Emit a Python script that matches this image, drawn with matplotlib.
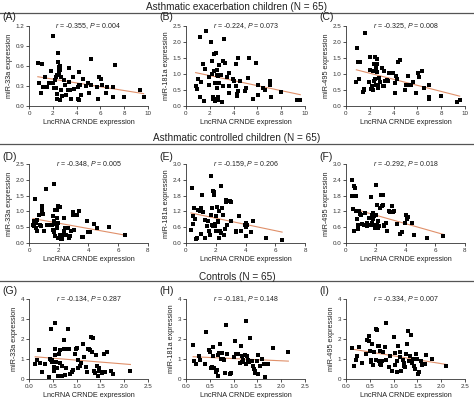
import numpy as np
import matplotlib
matplotlib.use('Agg')
import matplotlib.pyplot as plt
from matplotlib.lines import Line2D
from matplotlib.ticker import FormatStrFormatter

# 스타일
plt.rcParams.update({
    'font.family': ['Liberation Sans', 'DejaVu Sans'],
    'mathtext.fontset': 'custom',
    'mathtext.rm': 'Liberation Sans',
    'mathtext.it': 'Liberation Sans:italic',
    'axes.linewidth': 0.6,
    'axes.edgecolor': '#333333',
    'xtick.major.width': 0.6,
    'ytick.major.width': 0.6,
    'xtick.major.size': 2,
    'ytick.major.size': 2,
    'xtick.major.pad': 1.5,
    'ytick.major.pad': 1.5,
    'xtick.color': '#333333',
    'ytick.color': '#333333',
    'xtick.labelsize': 4.5,
    'ytick.labelsize': 4.5,
})

# ---- 데이터 ----
group_titles = ['Asthmatic exacerbation children (N = 65)',
                'Asthmatic controlled children (N = 65)',
                'Controls (N = 65)']
panel_labels = ['(A)', '(B)', '(C)', '(D)', '(E)', '(F)', '(G)', '(H)', '(I)']
mirna_labels = ['miR-33a expression', 'miR-181a expression', 'miR-495 expression']
r_values = ['-0.355', '-0.224', '-0.325', '-0.348', '-0.159', '-0.292', '-0.134', '-0.181', '-0.334']
p_values = ['0.004', '0.073', '0.008', '0.005', '0.206', '0.018', '0.287', '0.148', '0.007']

a_x = [0.74, 1.08, 0.88, 0.97, 1.14, 1.36, 1.53, 1.65, 1.99, 1.85, 1.99, 2.10, 2.20, 2.25, 2.27, 2.33,
       2.39, 2.47, 2.47, 2.50, 2.53, 2.56, 2.60, 2.60, 2.63, 2.70, 2.70, 2.78, 2.90, 3.04, 3.13, 3.24,
       3.38, 3.32, 3.47, 3.55, 3.69, 3.81, 4.09, 4.18, 4.12, 4.18, 4.23, 4.32, 4.40, 4.52, 4.77, 4.94,
       5.00, 5.20, 5.17, 5.68, 5.91, 6.02, 5.82, 6.16, 6.48, 6.59, 7.10, 7.02, 7.19, 8.01, 9.35, 9.63, 2.39]
a_y = [0.64, 0.63, 0.35, 0.20, 0.28, 0.44, 0.28, 0.34, 1.05, 0.53, 0.34, 0.27, 0.39, 0.43, 0.27, 0.46,
       0.11, 0.79, 0.66, 0.58, 0.52, 0.50, 0.54, 0.60, 0.09, 0.44, 0.24, 0.15, 0.39, 0.31, 0.16, 0.24,
       0.57, 0.36, 0.24, 0.11, 0.44, 0.25, 0.28, 0.51, 0.11, 0.09, 0.31, 0.31, 0.17, 0.40, 0.30, 0.35,
       0.19, 0.71, 0.31, 0.28, 0.44, 0.40, 0.10, 0.31, 0.20, 0.28, 0.28, 0.14, 0.62, 0.13, 0.24, 0.14, 0.18]

b_x = [0.81, 0.95, 1.03, 1.23, 1.15, 1.17, 1.54, 1.40, 1.56, 1.68, 1.90, 2.09, 1.96, 2.15, 2.20, 2.23,
       2.29, 2.37, 2.35, 2.40, 2.46, 2.49, 2.51, 2.57, 2.57, 2.63, 2.65, 2.68, 2.71, 2.77, 2.79, 2.90,
       2.99, 3.07, 3.13, 3.18, 3.27, 3.41, 3.58, 3.58, 3.63, 3.91, 4.02, 4.19, 4.19, 4.25, 4.30, 4.33,
       4.39, 4.53, 4.94, 5.08, 5.17, 5.28, 5.64, 5.92, 6.03, 6.09, 6.48, 6.62, 7.04, 7.09, 7.18, 8.02,
       9.33, 9.60]
b_y = [0.64, 0.53, 0.84, 0.75, 0.27, 2.16, 0.15, 1.30, 1.17, 2.33, 0.66, 2.01, 0.90, 1.40, 1.01, 0.29,
       0.21, 1.64, 1.08, 0.15, 0.73, 0.23, 1.67, 0.98, 0.55, 1.12, 0.18, 0.29, 0.93, 0.71, 1.28, 0.98,
       0.13, 1.40, 0.64, 2.10, 1.33, 0.90, 0.41, 0.61, 1.03, 0.83, 0.79, 1.30, 0.61, 0.39, 0.32, 1.51,
       0.47, 0.78, 0.48, 0.55, 0.89, 1.51, 0.21, 1.35, 0.66, 0.34, 0.55, 0.50, 0.77, 0.66, 0.29, 0.45,
       0.18, 0.18]

c_x = [0.87, 0.92, 1.00, 1.17, 1.12, 1.40, 1.51, 1.54, 1.62, 1.90, 2.01, 2.04, 2.09, 2.18, 2.26, 2.23,
       2.32, 2.37, 2.40, 2.46, 2.49, 2.54, 2.57, 2.60, 2.63, 2.65, 2.71, 2.79, 2.88, 2.99, 3.07, 3.16,
       3.21, 3.30, 3.41, 3.55, 3.63, 3.97, 4.11, 4.13, 4.19, 4.27, 4.39, 4.50, 4.94, 5.06, 5.11, 5.22,
       5.45, 5.61, 5.87, 6.01, 6.12, 6.40, 6.56, 6.98, 6.96, 7.01, 7.99, 9.30, 9.55]
c_y = [0.74, 1.80, 1.36, 1.36, 0.83, 0.43, 0.54, 0.49, 2.28, 0.74, 1.52, 1.14, 0.53, 0.64, 1.09, 0.49,
       0.78, 1.31, 0.83, 1.52, 0.67, 1.19, 1.47, 1.31, 1.06, 0.67, 0.56, 0.86, 0.74, 1.19, 0.64, 1.09,
       0.64, 0.78, 0.81, 0.78, 1.04, 1.02, 0.72, 0.42, 0.93, 0.85, 1.36, 1.44, 0.51, 0.66, 0.67, 0.95,
       0.67, 0.74, 0.42, 1.02, 0.91, 1.09, 0.56, 0.67, 0.28, 0.23, 0.30, 0.14, 0.19]

d_x = [0.27, 0.36, 0.41, 0.34, 0.45, 0.50, 0.54, 0.56, 0.68, 0.72, 0.81, 0.88, 0.90, 0.90, 0.95, 1.01,
       1.17, 1.22, 1.28, 1.33, 1.40, 1.51, 1.55, 1.58, 1.62, 1.67, 1.69, 1.69, 1.73, 1.76, 1.80, 1.85,
       1.85, 1.87, 1.91, 1.96, 1.98, 1.98, 2.07, 2.07, 2.14, 2.18, 2.25, 2.30, 2.34, 2.36, 2.41, 2.52,
       2.59, 2.66, 2.75, 2.79, 2.97, 2.97, 3.02, 3.24, 3.36, 3.54, 3.65, 3.92, 3.99, 4.10, 4.39, 4.55,
       5.38, 6.46]
d_y = [0.58, 0.69, 1.40, 0.55, 0.47, 0.63, 0.37, 0.74, 0.88, 0.58, 0.53, 1.11, 1.16, 0.98, 0.92, 0.39,
       1.71, 0.58, 0.56, 0.58, 0.58, 0.56, 0.58, 0.42, 0.86, 1.87, 0.69, 0.35, 0.23, 1.05, 0.61, 1.05,
       0.79, 0.47, 0.58, 0.16, 1.16, 0.63, 1.13, 0.26, 0.16, 0.13, 0.14, 0.26, 0.79, 0.39, 0.47, 0.26,
       0.47, 0.16, 0.21, 0.39, 0.98, 0.90, 0.40, 0.88, 1.02, 0.18, 0.18, 0.69, 0.35, 0.35, 0.60, 0.47,
       0.50, 0.26]

e_x = [0.38, 0.33, 0.45, 0.49, 0.56, 0.60, 0.67, 0.76, 0.82, 0.94, 0.98, 1.00, 1.09, 1.16, 1.27, 1.31,
       1.38, 1.49, 1.54, 1.60, 1.65, 1.71, 1.76, 1.78, 1.83, 1.83, 1.87, 1.89, 1.94, 1.96, 2.00, 2.05,
       2.07, 2.12, 2.16, 2.20, 2.23, 2.27, 2.34, 2.38, 2.43, 2.49, 2.54, 2.61, 2.67, 2.72, 2.76, 2.94,
       3.01, 3.05, 3.34, 3.39, 3.56, 3.72, 3.94, 4.01, 4.05, 4.05, 4.10, 4.39, 4.52, 5.41, 6.46]
e_y = [2.09, 0.51, 0.72, 1.01, 1.33, 0.91, 0.15, 0.19, 1.27, 1.23, 1.33, 0.34, 1.81, 1.18, 0.19, 0.89,
       0.63, 0.82, 0.44, 0.32, 2.53, 1.08, 1.33, 0.70, 0.63, 1.99, 1.94, 1.84, 0.72, 0.63, 1.01, 0.47,
       1.35, 0.82, 0.80, 0.19, 1.20, 0.47, 2.15, 0.38, 1.33, 1.08, 0.32, 0.54, 1.56, 1.65, 0.70, 1.61,
       0.85, 1.56, 0.47, 0.41, 1.01, 0.44, 0.70, 0.75, 0.25, 0.59, 0.67, 0.41, 0.82, 0.19, 0.13]

f_x = [0.43, 0.38, 0.45, 0.54, 0.61, 0.56, 0.65, 0.70, 0.74, 0.79, 0.83, 0.90, 0.94, 1.01, 1.10, 1.23,
       1.28, 1.39, 1.43, 1.50, 1.57, 1.61, 1.68, 1.72, 1.77, 1.79, 1.84, 1.86, 1.88, 1.93, 1.99, 2.02,
       2.06, 2.09, 2.13, 2.17, 2.24, 2.29, 2.35, 2.40, 2.46, 2.51, 2.53, 2.58, 2.67, 2.73, 2.89, 2.96,
       3.07, 3.14, 3.25, 3.41, 3.63, 3.77, 3.97, 4.04, 4.13, 4.17, 4.42, 4.55, 5.45, 6.53]
f_y = [2.39, 1.77, 1.30, 2.15, 2.09, 0.47, 1.23, 1.77, 0.91, 0.54, 0.70, 1.23, 1.10, 1.08, 0.72, 0.70,
       1.14, 0.63, 0.75, 0.70, 0.95, 0.70, 1.73, 0.76, 1.08, 0.91, 1.14, 1.01, 0.70, 0.57, 2.22, 1.08,
       1.43, 0.70, 0.57, 0.82, 0.63, 1.33, 1.81, 1.42, 1.81, 1.43, 0.70, 0.63, 0.76, 0.47, 1.23, 1.18,
       1.39, 1.18, 1.20, 0.72, 0.34, 0.41, 0.75, 1.08, 0.92, 0.97, 0.76, 0.32, 0.19, 0.25]

g_x = [0.13, 0.17, 0.20, 0.23, 0.27, 0.34, 0.42, 0.45, 0.47, 0.48, 0.49, 0.46, 0.52, 0.52, 0.55, 0.54,
       0.55, 0.56, 0.59, 0.61, 0.64, 0.65, 0.66, 0.69, 0.69, 0.73, 0.74, 0.75, 0.78, 0.78, 0.82, 0.83,
       0.86, 0.90, 0.92, 0.97, 0.99, 1.01, 1.02, 1.03, 1.08, 1.10, 1.13, 1.15, 1.19, 1.21, 1.23, 1.26,
       1.28, 1.30, 1.34, 1.33, 1.36, 1.38, 1.41, 1.43, 1.45, 1.47, 1.48, 1.53, 1.54, 1.58, 1.63, 1.60,
       1.72, 1.77, 2.13]
g_y = [0.73, 0.96, 1.43, 0.78, 0.34, 0.76, 0.12, 1.01, 0.93, 0.93, 0.84, 2.48, 0.59, 0.42, 2.78, 1.21,
       1.52, 0.84, 0.56, 0.17, 1.26, 1.43, 0.79, 0.17, 0.67, 1.97, 1.52, 0.22, 1.52, 0.54, 2.48, 1.52,
       0.25, 0.34, 0.46, 1.23, 1.52, 1.55, 0.54, 0.93, 0.67, 0.79, 1.77, 1.10, 0.59, 0.34, 1.52, 1.52,
       1.47, 2.11, 2.06, 1.35, 0.42, 0.29, 1.18, 0.67, 0.17, 0.56, 0.42, 0.29, 0.34, 1.26, 1.33, 0.37,
       0.39, 0.25, 0.42]

h_x = [0.15, 0.17, 0.20, 0.27, 0.30, 0.39, 0.42, 0.48, 0.51, 0.53, 0.55, 0.56, 0.56, 0.58, 0.57, 0.62,
       0.65, 0.67, 0.68, 0.69, 0.71, 0.73, 0.74, 0.76, 0.77, 0.79, 0.82, 0.85, 0.87, 0.92, 0.95, 1.01,
       1.02, 1.06, 1.10, 1.13, 1.15, 1.17, 1.18, 1.20, 1.23, 1.26, 1.27, 1.29, 1.30, 1.32, 1.34, 1.35,
       1.37, 1.39, 1.41, 1.43, 1.44, 1.46, 1.49, 1.51, 1.52, 1.55, 1.59, 1.63, 1.66, 1.73, 1.83, 2.15]
h_y = [1.69, 0.89, 0.76, 1.13, 0.96, 0.73, 2.36, 1.43, 1.35, 0.56, 0.62, 1.60, 0.56, 0.56, 1.13, 0.34,
       0.46, 0.17, 1.21, 1.30, 1.74, 1.01, 0.98, 1.32, 1.01, 0.93, 0.29, 2.70, 1.26, 0.25, 0.29, 1.10,
       1.91, 1.23, 1.23, 0.79, 1.64, 0.86, 1.16, 0.93, 1.18, 2.88, 0.76, 1.13, 0.93, 0.84, 2.06, 0.88,
       0.89, 0.88, 0.67, 0.51, 0.42, 0.29, 0.89, 1.18, 0.25, 0.67, 1.01, 0.76, 0.12, 0.76, 1.57, 1.35]

i_x = [0.12, 0.17, 0.20, 0.24, 0.27, 0.34, 0.41, 0.44, 0.48, 0.49, 0.51, 0.53, 0.53, 0.55, 0.57, 0.58,
       0.62, 0.64, 0.65, 0.67, 0.69, 0.70, 0.71, 0.72, 0.74, 0.76, 0.78, 0.81, 0.83, 0.85, 0.90, 0.93,
       0.97, 1.00, 1.02, 1.03, 1.07, 1.08, 1.10, 1.13, 1.14, 1.16, 1.19, 1.21, 1.22, 1.24, 1.26, 1.29,
       1.31, 1.33, 1.35, 1.36, 1.38, 1.40, 1.42, 1.44, 1.47, 1.50, 1.52, 1.54, 1.57, 1.59, 1.65, 1.69,
       1.80, 2.11]
i_y = [1.55, 0.67, 0.97, 1.17, 1.58, 0.78, 1.25, 1.97, 2.17, 1.92, 1.42, 0.95, 0.85, 1.77, 0.68, 1.35,
       0.93, 2.50, 2.45, 1.67, 1.63, 0.88, 1.42, 0.75, 0.68, 0.92, 1.35, 1.58, 2.80, 0.97, 0.58, 1.17,
       0.42, 2.08, 1.30, 0.72, 0.35, 0.88, 1.63, 1.35, 1.08, 0.42, 0.97, 0.63, 0.80, 0.58, 1.25, 1.75,
       2.38, 0.92, 1.13, 2.18, 0.80, 1.02, 0.63, 0.52, 1.25, 1.02, 0.25, 0.35, 0.88, 0.72, 0.75, 1.18,
       1.00, 0.63]

xs_all = [a_x, b_x, c_x, d_x, e_x, f_x, g_x, h_x, i_x]
ys_all = [a_y, b_y, c_y, d_y, e_y, f_y, g_y, h_y, i_y]

# 축 눈금 (행/패널별)
x_ticks_rows = [[0, 2, 4, 6, 8, 10], [0, 2, 4, 6, 8], [0.0, 0.5, 1.0, 1.5, 2.0, 2.5]]
y_ticks_panels = [
    [0.0, 0.3, 0.6, 0.9, 1.2], [0.0, 0.5, 1.0, 1.5, 2.0, 2.5], [0.0, 0.5, 1.0, 1.5, 2.0, 2.5],
    [0.0, 0.5, 1.0, 1.5, 2.0, 2.5], [0.0, 0.6, 1.2, 1.8, 2.4, 3.0], [0.0, 0.6, 1.2, 1.8, 2.4, 3.0],
    [0, 1, 2, 3, 4], [0, 1, 2, 3, 4], [0, 1, 2, 3, 4],
]

# ---- 레이아웃 (픽셀) ----
W, H = 474, 398
fig = plt.figure(figsize=(W / 100, H / 100), dpi=100)
fig.patch.set_facecolor('white')

def rect(left, top, right, bottom):
    return [left / W, 1 - bottom / H, (right - left) / W, (bottom - top) / H]

col_lr = [(29, 148), (186, 305), (346, 465)]
row_tb = [(26, 106), (164, 243), (299, 379)]
title_y = [6.5, 138, 276.5]
rule_y = [13, 143.5, 280.5]
label_y = [17, 157, 291]
label_x = [2, 159, 319]
line_color = '#e0906a'

for r in range(3):
    fig.text(0.5, 1 - title_y[r] / H, group_titles[r], ha='center', va='center',
             fontsize=7.2, color='#222222')
    fig.add_artist(Line2D([0, 1], [1 - rule_y[r] / H] * 2, color='#555555', lw=0.9,
                          transform=fig.transFigure))
    for c in range(3):
        k = r * 3 + c
        x = np.array(xs_all[k])
        y = np.array(ys_all[k])
        ax = fig.add_axes(rect(col_lr[c][0], row_tb[r][0], col_lr[c][1], row_tb[r][1]))
        ax.scatter(x, y, s=5.5, marker='s', color='black', linewidths=0, clip_on=False, zorder=3)

        # 회귀선
        slope, intercept = np.polyfit(x, y, 1)
        xl = np.array([x.min(), x.max()])
        ax.plot(xl, slope * xl + intercept, color=line_color, lw=0.8, zorder=2)

        xt = x_ticks_rows[r]
        yt = y_ticks_panels[k]
        ax.set_xlim(xt[0], xt[-1])
        ax.set_ylim(yt[0], yt[-1])
        ax.set_xticks(xt)
        ax.set_yticks(yt)
        ax.xaxis.set_major_formatter(FormatStrFormatter('%.1f' if r == 2 else '%d'))
        ax.yaxis.set_major_formatter(FormatStrFormatter('%d' if r == 2 else '%.1f'))
        for side in ['top', 'right']:
            ax.spines[side].set_visible(False)
        ax.tick_params(direction='out')
        ax.set_xlabel('LncRNA CRNDE expression', fontsize=5.2, labelpad=2, color='#222222')
        ax.set_ylabel(mirna_labels[c], fontsize=5.2, labelpad=2, color='#222222')

        ax.text(0.5, 1.0, rf'$r$ = {r_values[k]}, $P$ = {p_values[k]}', transform=ax.transAxes,
                ha='center', va='center', fontsize=5, color='#222222')
        fig.text(label_x[c] / W, 1 - label_y[r] / H, panel_labels[k], ha='left', va='center',
                 fontsize=7.5, color='#222222')

fig.savefig('out.png', dpi=100, facecolor='white')
plt.close(fig)
